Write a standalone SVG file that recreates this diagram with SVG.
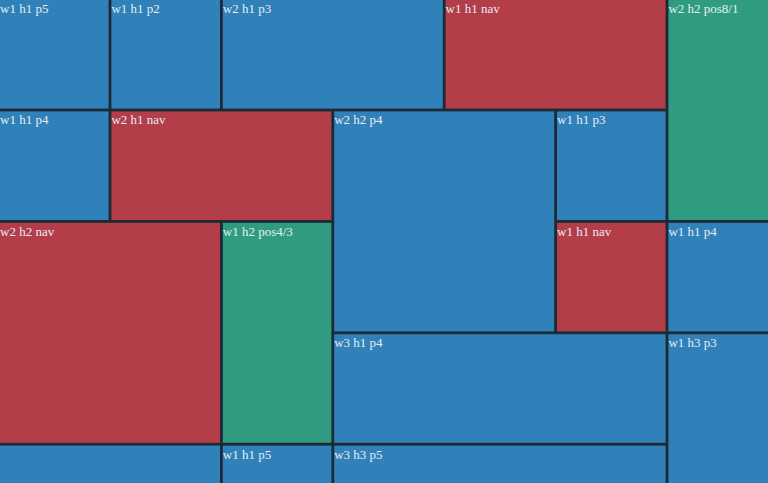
<svg xmlns="http://www.w3.org/2000/svg" width="768" height="483" viewBox="0 0 768 483">
<style>
.b{fill:#3080b9}.r{fill:#b43d4a}.g{fill:#2f9c82}
text{font-family:"Liberation Serif","Times New Roman",serif;font-size:13px;fill:#e6eef2}
</style>
<rect x="0" y="0" width="768" height="483" fill="#1b2a35"/>
<g id="n1"><rect class="b" x="0" y="0" width="108.6" height="108.6"/><text x="0" y="13">w1 h1 p5</text></g>
<g id="n2"><rect class="b" x="111.4" y="0" width="108.6" height="108.6"/><text x="111.4" y="13">w1 h1 p2</text></g>
<g id="n3"><rect class="b" x="222.8" y="0" width="220" height="108.6"/><text x="222.8" y="13">w2 h1 p3</text></g>
<g id="n4"><rect class="r" x="445.6" y="0" width="220" height="108.6"/><text x="445.6" y="13">w1 h1 nav</text></g>
<g id="n5"><rect class="g" x="668.4" y="0" width="108.6" height="220"/><text x="668.4" y="13">w2 h2 pos8/1</text></g>
<g id="n6"><rect class="b" x="0" y="111.4" width="108.6" height="108.6"/><text x="0" y="124.4">w1 h1 p4</text></g>
<g id="n7"><rect class="r" x="111.4" y="111.4" width="220" height="108.6"/><text x="111.4" y="124.4">w2 h1 nav</text></g>
<g id="n8"><rect class="b" x="334.2" y="111.4" width="220" height="220"/><text x="334.2" y="124.4">w2 h2 p4</text></g>
<g id="n9"><rect class="b" x="557" y="111.4" width="108.6" height="108.6"/><text x="557" y="124.4">w1 h1 p3</text></g>
<g id="n10"><rect class="r" x="0" y="222.8" width="220" height="220"/><text x="0" y="235.8">w2 h2 nav</text></g>
<g id="n11"><rect class="g" x="222.8" y="222.8" width="108.6" height="220"/><text x="222.8" y="235.8">w1 h2 pos4/3</text></g>
<g id="n12"><rect class="r" x="557" y="222.8" width="108.6" height="108.6"/><text x="557" y="235.8">w1 h1 nav</text></g>
<g id="n13"><rect class="b" x="668.4" y="222.8" width="108.6" height="108.6"/><text x="668.4" y="235.8">w1 h1 p4</text></g>
<g id="n14"><rect class="b" x="334.2" y="334.2" width="331.4" height="108.6"/><text x="334.2" y="347.2">w3 h1 p4</text></g>
<g id="n15"><rect class="b" x="668.4" y="334.2" width="108.6" height="331.4"/><text x="668.4" y="347.2">w1 h3 p3</text></g>
<g id="n16"><rect class="b" x="0" y="445.6" width="220" height="108.6"/></g>
<g id="n17"><rect class="b" x="222.8" y="445.6" width="108.6" height="108.6"/><text x="222.8" y="458.6">w1 h1 p5</text></g>
<g id="n18"><rect class="b" x="334.2" y="445.6" width="331.4" height="108.6"/><text x="334.2" y="458.6">w3 h3 p5</text></g>
<g id="connectors"/>
</svg>
